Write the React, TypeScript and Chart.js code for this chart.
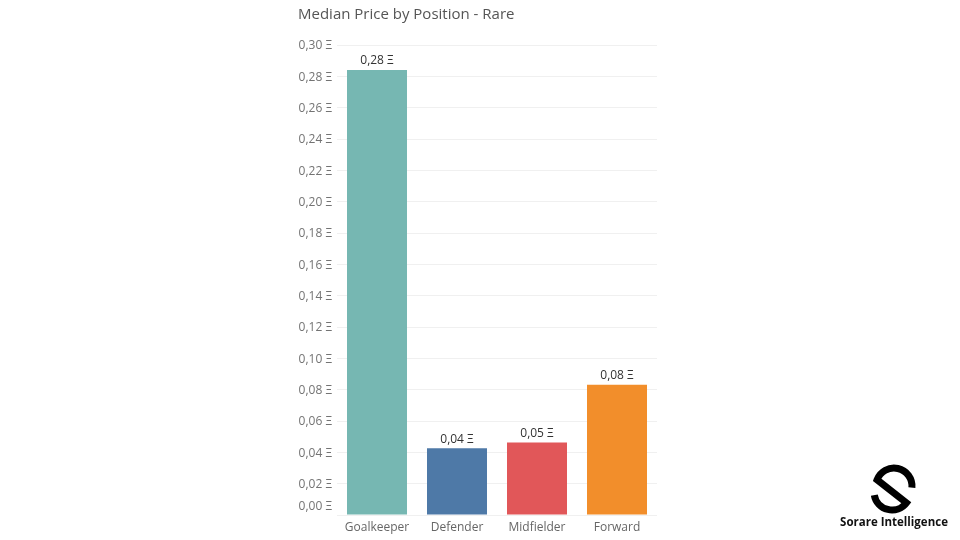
import React, { useEffect, useRef } from "react";
import { Chart, registerables } from "chart.js";

Chart.register(...registerables);

const TITLE = "Median Price by Position - Rare";
const categories = ["Goalkeeper", "Defender", "Midfielder", "Forward"];
const medianPrices = [0.284, 0.0426, 0.0462, 0.0832];
const barColors = ["#76b7b2", "#4e79a7", "#e15759", "#f28e2b"];
const yMin = 0;
const yMax = 0.3;
const yStep = 0.02;
const FONT = "'Open Sans', 'DejaVu Sans', sans-serif";

const fmt = (v: number) => v.toFixed(2).replace(".", ",") + " Ξ";

const labelPlugin = {
  id: "customLabels",
  afterDraw(chart: any) {
    const ctx = chart.ctx;
    const y = chart.scales.y;
    ctx.save();
    // title
    ctx.font = `15px ${FONT}`;
    ctx.fillStyle = "#555555";
    ctx.textAlign = "left";
    ctx.textBaseline = "middle";
    ctx.fillText(TITLE, 298, 15);
    // y tick labels
    ctx.font = `12px ${FONT}`;
    ctx.fillStyle = "#737373";
    ctx.textAlign = "right";
    y.ticks.forEach((t: any) => {
      let py = y.getPixelForValue(t.value) + 1;
      if (Math.abs(t.value) < 1e-9) py -= 9;
      ctx.fillText(fmt(t.value), chart.chartArea.left - 5, py);
    });
    // value labels
    const meta = chart.getDatasetMeta(0);
    ctx.fillStyle = "#333333";
    ctx.textAlign = "center";
    ctx.textBaseline = "middle";
    meta.data.forEach((bar: any, i: number) => {
      ctx.fillText(fmt(medianPrices[i]), bar.x, bar.y - 9);
    });
    ctx.restore();
  },
};

export default function App() {
  const ref = useRef<HTMLCanvasElement | null>(null);
  useEffect(() => {
    if (!ref.current) return;
    const chart = new Chart(ref.current, {
      type: "bar",
      data: {
        labels: categories,
        datasets: [
          {
            data: medianPrices,
            backgroundColor: barColors,
            barPercentage: 0.75,
            categoryPercentage: 1.0,
          },
        ],
      },
      options: {
        animation: false,
        responsive: false,
        devicePixelRatio: 1,
        layout: { padding: { left: 337, right: 303, top: 45, bottom: 0 } },
        plugins: {
          legend: { display: false },
          tooltip: { enabled: false },
          title: { display: false },
        },
        scales: {
          x: {
            grid: { display: false, drawTicks: false },
            border: { display: false },
            ticks: {
              color: "#666666",
              font: { family: FONT, size: 12 },
              padding: 5,
            },
            afterFit: (s: any) => {
              s.height = 25;
            },
          },
          y: {
            min: yMin,
            max: yMax,
            grid: { color: "#f0f0f0", drawTicks: false },
            border: { display: false },
            ticks: { display: false, stepSize: yStep },
            afterFit: (s: any) => {
              s.width = 0;
            },
          },
        },
      },
      plugins: [labelPlugin],
    });
    return () => chart.destroy();
  }, []);

  return (
    <div
      style={{
        position: "fixed",
        left: 0,
        top: 0,
        width: 960,
        height: 540,
        background: "#ffffff",
      }}
    >
      <canvas ref={ref} width={960} height={540} style={{ display: "block" }} />
      <svg
        width={960}
        height={540}
        style={{ position: "absolute", left: 0, top: 0, pointerEvents: "none" }}
      >
        <path
          d="M 911.9 487.6 A 18 18 0 0 0 877.1 479.8 L 906.4 502.8 A 18 18 0 0 1 874.3 495.1"
          fill="none"
          stroke="#000000"
          strokeWidth={7}
        />
      </svg>
      <div
        style={{
          position: "absolute",
          left: 824,
          width: 140,
          top: 514,
          textAlign: "center",
          fontFamily: FONT,
          fontWeight: 700,
          fontSize: 11.5,
          color: "#111111",
          lineHeight: "16px",
        }}
      >
        Sorare Intelligence
      </div>
    </div>
  );
}
